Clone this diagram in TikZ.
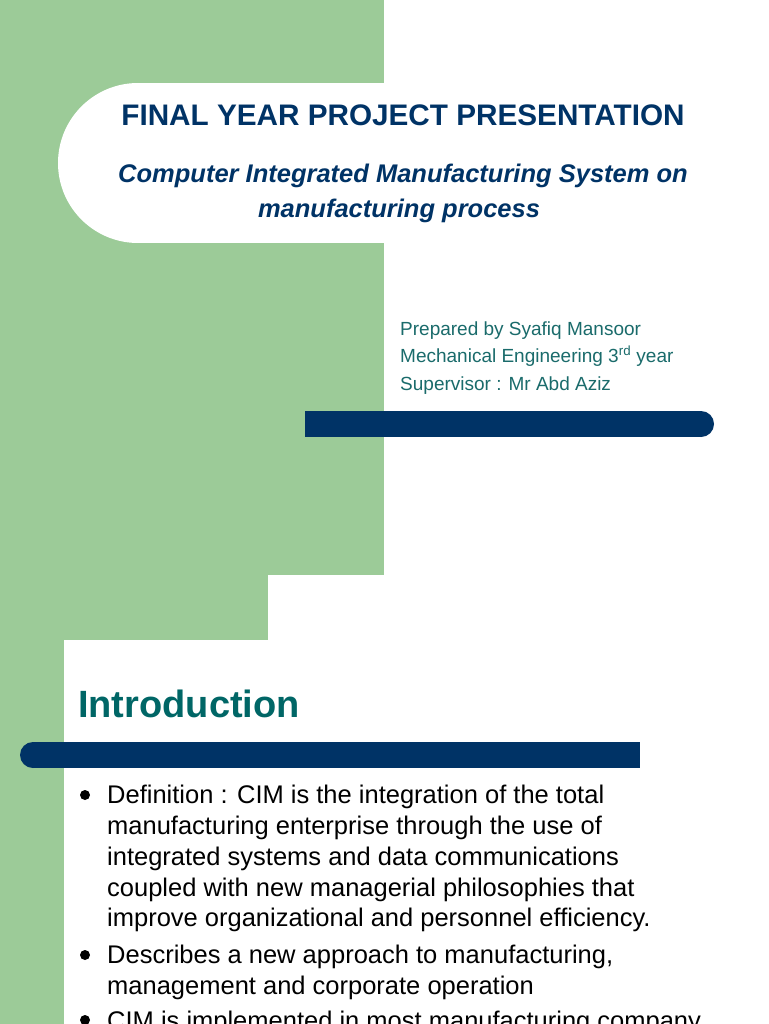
\documentclass[tikz,border=0pt]{standalone}
\usepackage{fontspec}
\setmainfont{Liberation Sans}
\definecolor{sgreen}{HTML}{9CCB98}
\definecolor{navy}{HTML}{003366}
\definecolor{teal2}{HTML}{006666}
\definecolor{tealtxt}{HTML}{1A6B6B}
\begin{document}
\begin{tikzpicture}[x=1pt,y=-1pt,
  txt/.style={anchor=base west,inner sep=0pt},
  bul/.style={txt,font=\fontsize{25.5}{30}\selectfont,text=black},
  prep/.style={txt,font=\fontsize{19}{22}\selectfont,text=tealtxt}]
\useasboundingbox (0,0) rectangle (768,1024);
\clip (0,0) rectangle (768,1024);
\fill[white] (0,0) rectangle (768,1024);
\fill[sgreen] (0,0) rectangle (384,575);
\fill[sgreen] (0,575) rectangle (268,640);
\fill[sgreen] (0,640) rectangle (64,1024);
% top white capsule
\fill[white] (138,83) rectangle (768,243);
\fill[white] (138,163) circle (80);
% bottom slide white with rounded corner
\fill[white] (64,1100) -- (64,662) arc[start angle=180,end angle=270,radius=22] -- (300,640) -- (300,1100) -- cycle;
% bars
\fill[navy] (305,411) rectangle (701,437);
\fill[navy] (701,424) circle (13);
\fill[navy] (33,742) rectangle (640,768);
\fill[navy] (33,755) circle (13);
% texts
\node[anchor=base,inner sep=0pt,text=navy,font=\bfseries\fontsize{29.7}{34}\selectfont] (t1) at (403,126) {FINAL YEAR PROJECT PRESENTATION};
\node[anchor=base,inner sep=0pt,text=navy,font=\bfseries\itshape\fontsize{25.5}{30}\selectfont] (t2) at (403,183) {Computer Integrated Manufacturing System on};
\node[anchor=base,inner sep=0pt,text=navy,font=\bfseries\itshape\fontsize{25.5}{30}\selectfont] (t3) at (399,218) {manufacturing process};
\node[prep] (p1) at (400,335) {Prepared by Syafiq Mansoor};
\node[prep] (p2) at (400,362) {Mechanical Engineering 3\textsuperscript{rd} year};
\node[prep] (p3) at (400,390) {Supervisor : Mr Abd Aziz};
\node[txt,text=teal2,font=\bfseries\fontsize{38}{44}\selectfont] (intro) at (78,717) {Introduction};
\foreach \y in {795,955,1020}{\fill[black] (85,\y) circle (5);}
\node[bul] (b1) at (107,803.5) {Definition : CIM is the integration of the total};
\node[bul] (b2) at (107,834.5) {manufacturing enterprise through the use of};
\node[bul] (b3) at (107,865.5) {integrated systems and data communications};
\node[bul] (b4) at (107,896) {coupled with new managerial philosophies that};
\node[bul] (b5) at (107,926.5) {improve organizational and personnel efficiency.};
\node[bul] (b6) at (107,963.5) {Describes a new approach to manufacturing,};
\node[bul] (b7) at (107,994.5) {management and corporate operation};
\node[bul] (b8) at (107,1029) {CIM is implemented in most manufacturing company};
\end{tikzpicture}
\end{document}
